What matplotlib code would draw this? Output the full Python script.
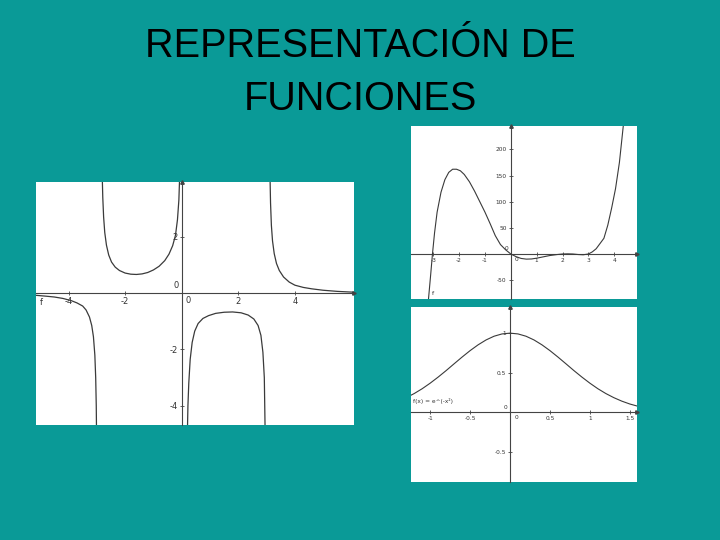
import matplotlib
matplotlib.use("Agg")
import matplotlib.pyplot as plt

# slide / text
title_1 = "REPRESENTACIÓN DE"
title_2 = "FUNCIONES"
formula_label = "f(x) = e^(-x²)"

# panel 1 : rational function, four branches
p1_xa = [-5.15, -4.8, -4.5, -4.2, -3.9, -3.7, -3.5, -3.38, -3.26, -3.18, -3.12, -3.07, -3.04, -3.02, -3.01]
p1_ya = [-0.08, -0.11, -0.14, -0.19, -0.27, -0.35, -0.46, -0.60, -0.85, -1.15, -1.55, -2.2, -3.0, -4.0, -5.0]
p1_xb = [-2.81, -2.79, -2.76, -2.72, -2.66, -2.58, -2.48, -2.35, -2.2, -2.0, -1.8, -1.6, -1.4, -1.2, -1.0,
         -0.8, -0.6, -0.45, -0.32, -0.22, -0.15, -0.10, -0.07]
p1_yb = [4.2, 3.4, 2.7, 2.15, 1.7, 1.35, 1.1, 0.92, 0.80, 0.71, 0.67, 0.66, 0.68, 0.73, 0.82,
         0.95, 1.15, 1.38, 1.68, 2.05, 2.6, 3.3, 4.2]
p1_xc = [0.20, 0.22, 0.25, 0.30, 0.37, 0.46, 0.58, 0.75, 0.95, 1.2, 1.5, 1.8, 2.1, 2.35, 2.55,
         2.7, 2.8, 2.87, 2.92, 2.95]
p1_yc = [-5.0, -4.0, -3.2, -2.35, -1.75, -1.35, -1.08, -0.9, -0.8, -0.72, -0.68, -0.67, -0.70, -0.78, -0.92,
         -1.15, -1.5, -2.1, -3.0, -5.0]
p1_xd = [3.12, 3.14, 3.17, 3.21, 3.27, 3.35, 3.45, 3.6, 3.8, 4.0, 4.3, 4.6, 5.0, 5.5, 6.1]
p1_yd = [4.2, 3.2, 2.4, 1.85, 1.4, 1.05, 0.80, 0.57, 0.39, 0.28, 0.20, 0.15, 0.10, 0.06, 0.03]
p1_xticks = [-4, -2, 2, 4]
p1_yticks = [-4, -2, 2]

# panel 2 : polynomial
p2_x = [-3.2, -3.1, -3.03, -2.95, -2.85, -2.7, -2.55, -2.4, -2.25, -2.1, -1.95, -1.8, -1.6, -1.4, -1.2,
        -1.0, -0.8, -0.6, -0.4, -0.2, 0, 0.2, 0.4, 0.6, 0.8, 1.0, 1.2, 1.5, 1.8, 2.0, 2.2, 2.4, 2.6,
        2.8, 3.0, 3.15, 3.3, 3.45, 3.6, 3.75, 3.9, 4.05, 4.2, 4.35]
p2_y = [-95, -40, 0, 40, 80, 118, 142, 156, 162, 162, 159, 152, 138, 120, 100,
        80, 58, 35, 18, 8, 0, -5, -8.5, -9.8, -9.5, -8, -6, -3, -1, 0, 0.3, 0, -1,
        -1.5, 0, 4, 10, 20, 30, 55, 88, 125, 175, 245]
p2_xticks = [-3, -2, -1, 1, 2, 3, 4]
p2_yticks = [-50, 50, 100, 150, 200]

# panel 3 : e^(-x^2)
p3_x = [-1.3, -1.2, -1.1, -1.0, -0.9, -0.8, -0.7, -0.6, -0.5, -0.4, -0.3, -0.2, -0.1, 0,
        0.1, 0.2, 0.3, 0.4, 0.5, 0.6, 0.7, 0.8, 0.9, 1.0, 1.1, 1.2, 1.3, 1.4, 1.5, 1.6, 1.7]
p3_y = [0.185, 0.237, 0.298, 0.368, 0.445, 0.527, 0.613, 0.698, 0.779, 0.852, 0.914, 0.961, 0.990, 1.0,
        0.990, 0.961, 0.914, 0.852, 0.779, 0.698, 0.613, 0.527, 0.445, 0.368, 0.298, 0.237, 0.185,
        0.141, 0.105, 0.077, 0.056]
p3_xticks = [-1, -0.5, 0.5, 1, 1.5]
p3_yticks = [-0.5, 0.5, 1]

TEAL = "#0a9a97"
AXC = "#444444"
CURVE = "#3a3a3a"

fig = plt.figure(figsize=(7.2, 5.4), dpi=100, facecolor=TEAL)

fig.text(0.5, 1 - 57 / 540, title_1, ha="center", va="baseline",
         fontsize=28.5, family="Liberation Sans", color="black")
fig.text(0.5, 1 - 110 / 540, title_2, ha="center", va="baseline",
         fontsize=28.5, family="Liberation Sans", color="black")


def setup(ax, xlim, ylim, xt, yt, fs, fmt="{:g}"):
    ax.set_facecolor("white")
    ax.set_xlim(*xlim)
    ax.set_ylim(*ylim)
    for s in ["top", "right"]:
        ax.spines[s].set_visible(False)
    for s in ["left", "bottom"]:
        ax.spines[s].set_position("zero")
        ax.spines[s].set_color(AXC)
        ax.spines[s].set_linewidth(0.8)
    ax.set_xticks(xt)
    ax.set_xticklabels([fmt.format(v) for v in xt])
    ax.set_yticks(yt)
    ax.set_yticklabels([fmt.format(v) for v in yt])
    ax.tick_params(direction="inout", length=3, width=0.6, color=AXC,
                   labelsize=fs, labelcolor="#333333", pad=1.5)
    # zero labels
    ax.annotate("0", xy=(0, 0), xytext=(-2, 2), textcoords="offset points",
                ha="right", va="bottom", fontsize=fs, color="#333333")
    ax.annotate("0", xy=(0, 0), xytext=(3, -2), textcoords="offset points",
                ha="left", va="top", fontsize=fs, color="#333333")
    # little arrow heads
    ax.plot(1, 0, ">", color=AXC, ms=2.5, transform=ax.get_yaxis_transform(), clip_on=False)
    ax.plot(0, 1, "^", color=AXC, ms=2.5, transform=ax.get_xaxis_transform(), clip_on=False)
    for sp in ax.spines.values():
        sp.set_zorder(1)


# panel 1
ax1 = fig.add_axes([36 / 720, 1 - 425 / 540, 318 / 720, 243 / 540])
setup(ax1, (-5.15, 6.09), (-4.68, 3.94), p1_xticks, p1_yticks, 6)
for xs, ys in [(p1_xa, p1_ya), (p1_xb, p1_yb), (p1_xc, p1_yc), (p1_xd, p1_yd)]:
    ax1.plot(xs, ys, color=CURVE, lw=0.9)
ax1.text(0.012, 0.523, "f", transform=ax1.transAxes, fontsize=6, color="#333333", va="top")

# panel 2
ax2 = fig.add_axes([411 / 720, 1 - 299 / 540, 226 / 720, 173 / 540])
setup(ax2, (-3.86, 4.88), (-86, 244.6), p2_xticks, p2_yticks, 4.2)
ax2.plot(p2_x, p2_y, color=CURVE, lw=0.8)
ax2.text(0.093, 0.02, "f", transform=ax2.transAxes, fontsize=4.5, color="#333333", va="bottom")

# panel 3
ax3 = fig.add_axes([411 / 720, 1 - 482 / 540, 226 / 720, 175 / 540])
setup(ax3, (-1.24, 1.59), (-0.88, 1.33), p3_xticks, p3_yticks, 4.2)
ax3.plot(p3_x, p3_y, color=CURVE, lw=0.8)
ax3.text(0.01, 0.465, formula_label, transform=ax3.transAxes, fontsize=4.2,
         color="#333333", va="center")

fig.savefig("out.png", dpi=100, facecolor=TEAL)
